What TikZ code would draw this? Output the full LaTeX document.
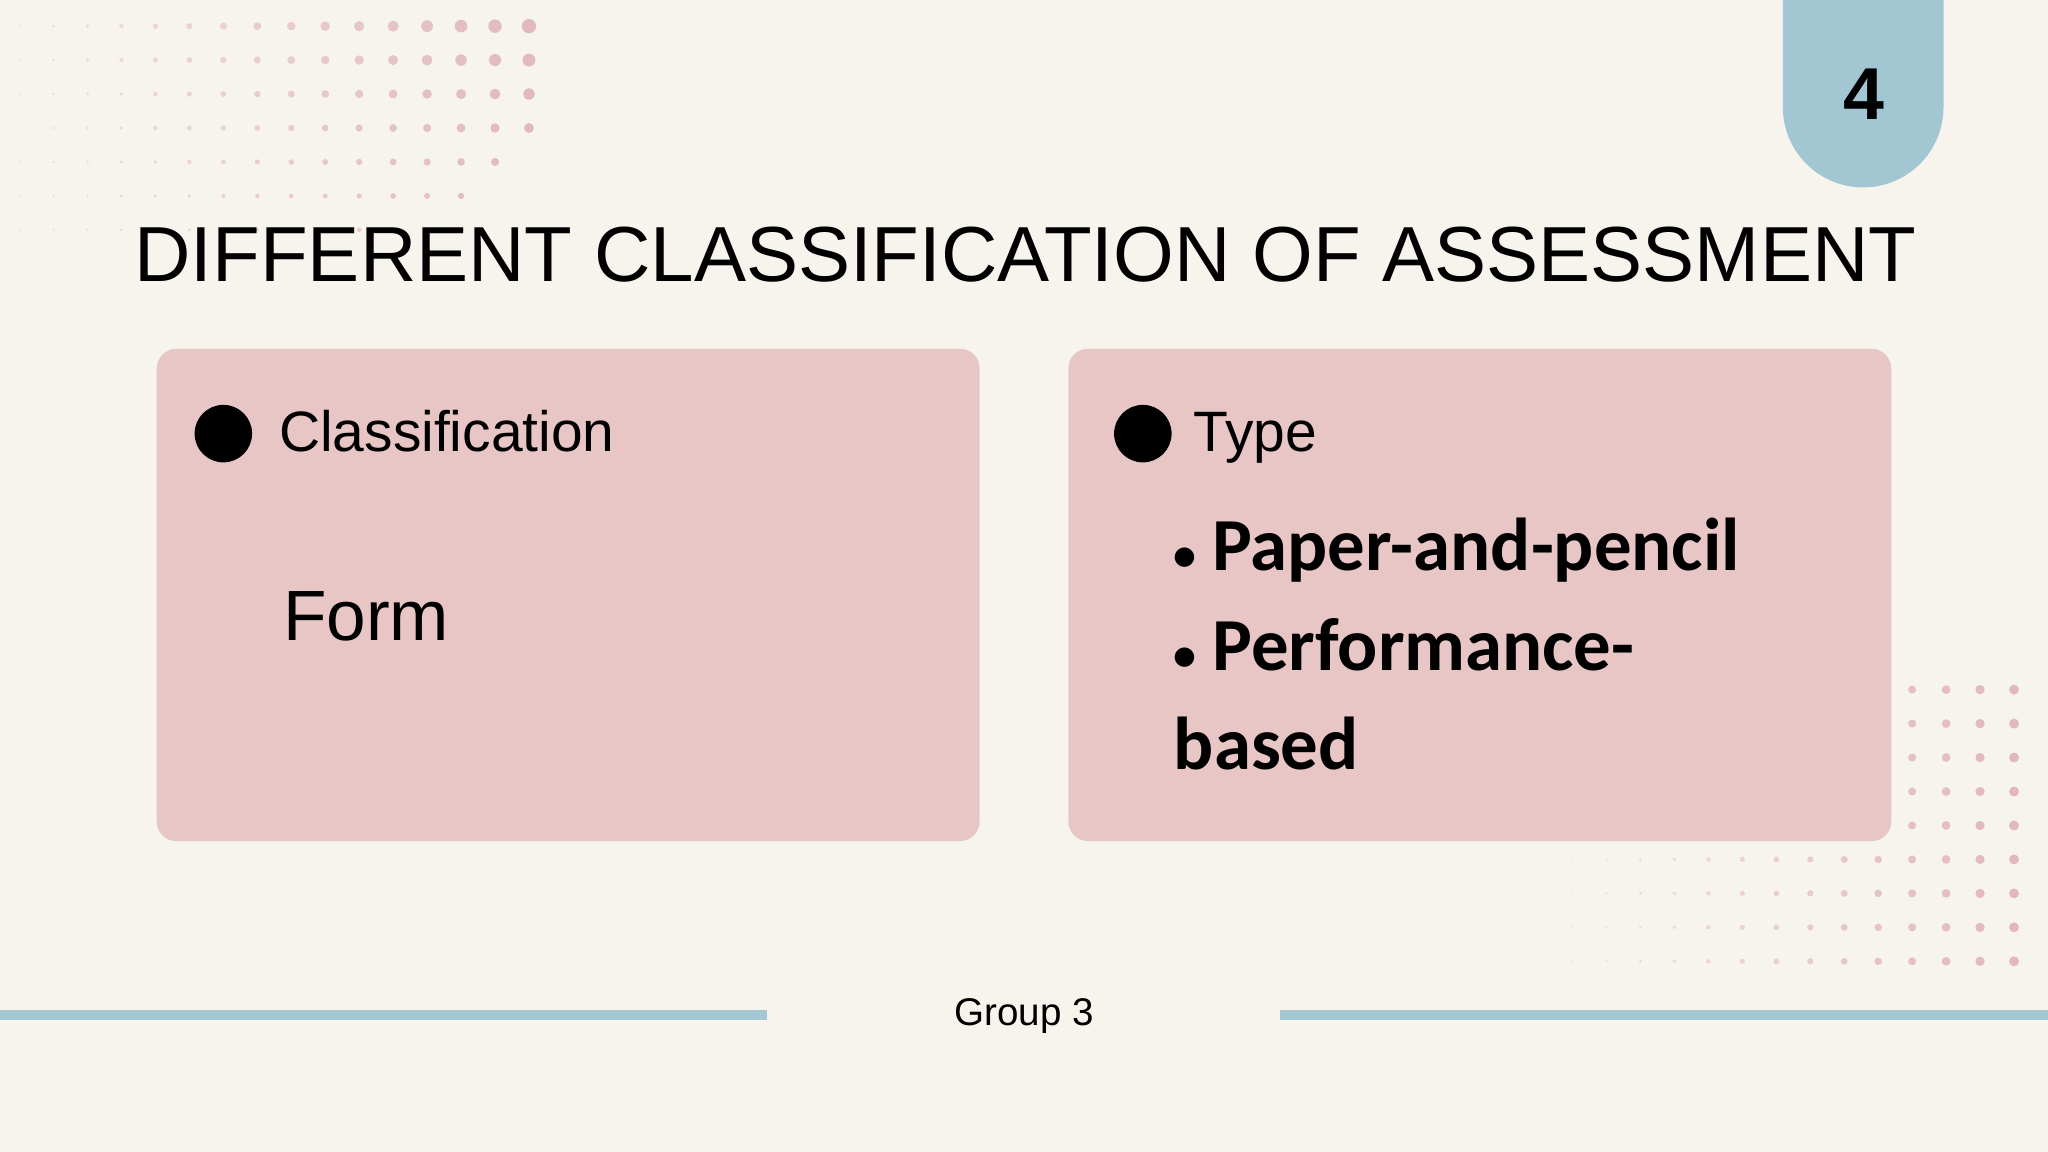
\documentclass[tikz,border=0pt]{standalone}
\usepackage{fontspec}
\setmainfont{Liberation Sans}
\newfontfamily\carl{Carlito}
\definecolor{bg}{HTML}{F7F4EE}
\definecolor{pinkbox}{HTML}{E9C6C6}
\definecolor{dotc}{HTML}{E2B8BC}
\definecolor{bluec}{HTML}{A3C6D3}
\begin{document}
\begin{tikzpicture}[x=0.01cm,y=-0.01cm,
  card/.style={fill=pinkbox,rounded corners=0.15cm},
  blt/.style={circle,fill=black,minimum size=0.44cm,inner sep=0},
  bar/.style={bluec,line width=2.3pt},
  item/.style={anchor=base west,font=\carl\bfseries\fontsize{16.3}{20}\selectfont,inner sep=0}]
\fill[bg] (0,0) rectangle (1568,882);
\useasboundingbox (0,0) rectangle (1568,882);
% top-left dots
\foreach \j in {0,...,6}{
  \foreach \i in {0,...,16}{
    \pgfmathsetmacro{\lim}{\j<4 ? 15 : (\j==4 ? 14 : (\j==5 ? 13 : 13))}
    \pgfmathsetmacro{\r}{0.8+5*\i/16*(1-0.12*\j)}
    \pgfmathsetmacro{\op}{0.35+0.65*\i/16}
    \ifdim\i pt>\lim pt\else
      \fill[dotc,opacity=\op] (15+26*\i,20+26*\j) circle[radius=\r];
    \fi
  }}
% bottom-right dots
\foreach \j in {0,...,8}{
  \foreach \i in {0,...,13}{
    \pgfmathsetmacro{\x}{1204+26*\i}
    \pgfmathsetmacro{\y}{528+26*\j}
    \pgfmathsetmacro{\ok}{(\x>1450 || \y>650) ? 1 : 0}
    \pgfmathsetmacro{\r}{0.8+3*\i/13}
    \pgfmathsetmacro{\op}{0.3+0.7*\i/13}
    \ifdim\ok pt>0.5pt
      \fill[dotc,opacity=\op] (\x,\y) circle[radius=\r];
    \fi
  }}
% tab
\fill[bluec] (1365,-5) -- (1365,82) arc[start angle=180,end angle=0,radius=61.5] -- (1488,-5) -- cycle;
\node[font=\fontsize{16}{18}\selectfont\bfseries] (num) at (1427,72) {4};
% title
\node[font=\fontsize{17}{20}\selectfont] (title) at (785,195) {DIFFERENT CLASSIFICATION OF ASSESSMENT};
% cards
\fill[card] (120,267) rectangle (750,644);
\fill[card] (818,267) rectangle (1448,644);
\node[blt] (b1) at (171,332) {};
\node[blt] (b2) at (875,332) {};
\node[anchor=base west,font=\fontsize{12.4}{14}\selectfont,inner sep=0] (cl) at (213,346) {Classification};
\node[anchor=base west,font=\fontsize{12.4}{14}\selectfont,inner sep=0] (ty) at (913,346) {Type};
\node[anchor=west,font=\fontsize{15.5}{18}\selectfont,inner sep=0] (form) at (216,472) {Form};
\node[item] (p1) at (898,437) {{\fontsize{10}{12}\selectfont•}\hspace{0.12cm}Paper-and-pencil};
\node[item] (p2) at (898,513) {{\fontsize{10}{12}\selectfont•}\hspace{0.12cm}Performance-};
\node[item] (p3) at (898,589) {based};
% footer
\coordinate (l1) at (0,777); \coordinate (l2) at (587,777);
\coordinate (r1) at (980,777); \coordinate (r2) at (1568,777);
\draw[bar] (l1) -- (l2);
\draw[bar] (r1) -- (r2);
\node[font=\fontsize{8.4}{10}\selectfont] (grp) at (784,778) {Group 3};
\end{tikzpicture}
\end{document}
